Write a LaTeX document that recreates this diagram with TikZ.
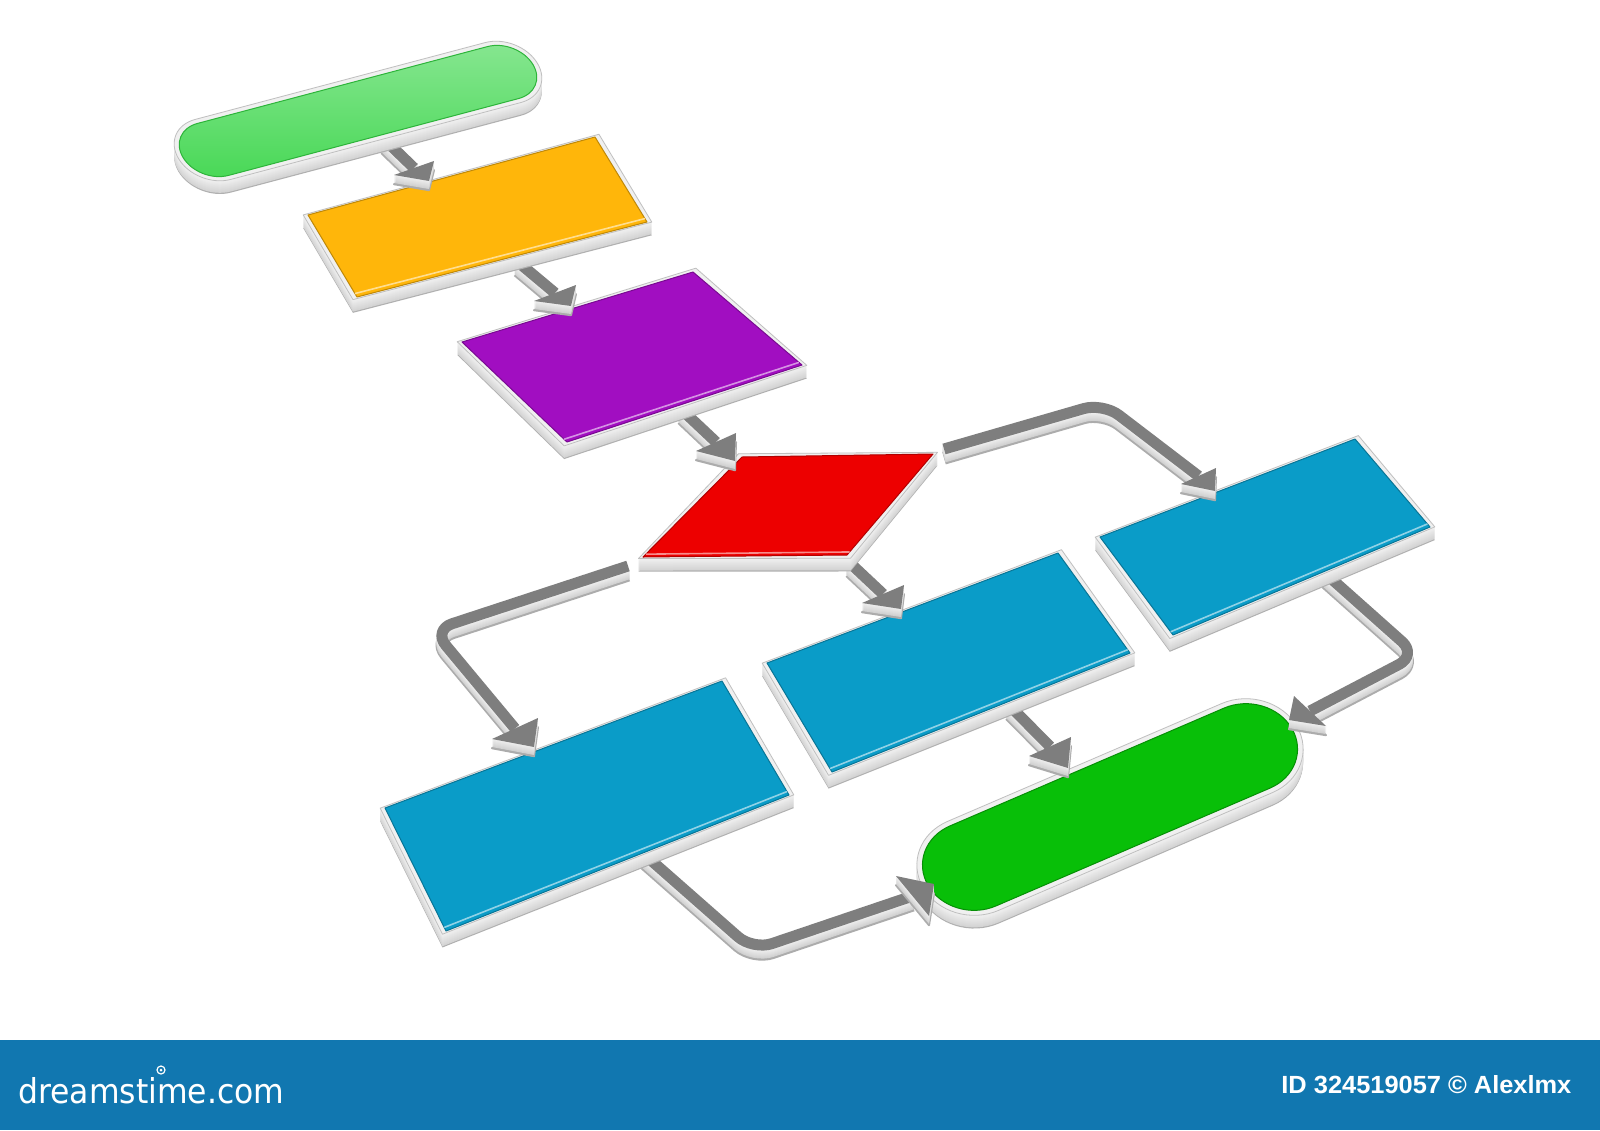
\documentclass[tikz,border=0pt]{standalone}
\usepackage{fontspec}
\usepackage{graphicx}
\usetikzlibrary{calc}
\newfontfamily\barfont{DejaVu Sans}
\newfontfamily\idfont{Liberation Sans}
\definecolor{orangeF}{HTML}{FFB60A}
\definecolor{purpleF}{HTML}{A10EC1}
\definecolor{redF}{HTML}{ED0000}
\definecolor{blueF}{HTML}{0A9CC8}
\definecolor{greenB}{HTML}{08BF08}
\definecolor{greenT1}{HTML}{86E690}
\definecolor{greenT2}{HTML}{48D856}
\definecolor{greenTd}{HTML}{2DB43A}
\definecolor{tubetop}{HTML}{7E7E7E}
\definecolor{barblue}{HTML}{1177B0}

% pill geometry: name, cx, cy, ux, uy, wx, wy, L, r
\newcommand\setpill[9]{%
 \pgfmathsetmacro\Px{#2-#8*#4}\pgfmathsetmacro\Py{#3-#8*#5}%
 \pgfmathsetmacro\Qx{#2+#8*#4}\pgfmathsetmacro\Qy{#3+#8*#5}%
 \pgfmathsetmacro\Rx{#9*#4}\pgfmathsetmacro\Ry{#9*#5}%
 \def\kk{0.5523}%
 \coordinate (#1-1) at (\Qx+#6,\Qy+#7);
 \coordinate (#1-2) at (\Qx+#6+\kk*\Rx,\Qy+#7+\kk*\Ry);
 \coordinate (#1-3) at (\Qx+\Rx+\kk*#6,\Qy+\Ry+\kk*#7);
 \coordinate (#1-4) at (\Qx+\Rx,\Qy+\Ry);
 \coordinate (#1-5) at (\Qx+\Rx-\kk*#6,\Qy+\Ry-\kk*#7);
 \coordinate (#1-6) at (\Qx-#6+\kk*\Rx,\Qy-#7+\kk*\Ry);
 \coordinate (#1-7) at (\Qx-#6,\Qy-#7);
 \coordinate (#1-8) at (\Px-#6,\Py-#7);
 \coordinate (#1-9) at (\Px-#6-\kk*\Rx,\Py-#7-\kk*\Ry);
 \coordinate (#1-10) at (\Px-\Rx-\kk*#6,\Py-\Ry-\kk*#7);
 \coordinate (#1-11) at (\Px-\Rx,\Py-\Ry);
 \coordinate (#1-12) at (\Px-\Rx+\kk*#6,\Py-\Ry+\kk*#7);
 \coordinate (#1-13) at (\Px+#6-\kk*\Rx,\Py+#7-\kk*\Ry);
 \coordinate (#1-14) at (\Px+#6,\Py+#7);
}
\newcommand\pillpath[1]{(#1-14) -- (#1-1) .. controls (#1-2) and (#1-3) .. (#1-4) .. controls (#1-5) and (#1-6) .. (#1-7) -- (#1-8) .. controls (#1-9) and (#1-10) .. (#1-11) .. controls (#1-12) and (#1-13) .. (#1-14) -- cycle}

\newcommand\pillslab[3]{%
 \begin{scope}[transform canvas={yshift=-6.6pt}]
  \fill[gray!62] \pillpath{#2};
 \end{scope}
 \foreach \k [evaluate=\k as \pc using int(10+4*\k)] in {6,5.5,...,0.5}{%
  \begin{scope}[transform canvas={yshift=-\k pt}]
   \fill[gray!\pc] \pillpath{#2};
  \end{scope}}
 \filldraw[fill=gray!12, draw=gray!50, line width=0.4pt] \pillpath{#2};
 \path[#3] \pillpath{#1};
}

\newcommand\quadslab[5]{%
 \coordinate (qc) at ($(#1)!0.5!(#3)$);
 \coordinate (q1) at ($(#1)!-2.4pt!(qc)$);
 \coordinate (q2) at ($(#2)!-2.4pt!(qc)$);
 \coordinate (q3) at ($(#3)!-2.4pt!(qc)$);
 \coordinate (q4) at ($(#4)!-2.4pt!(qc)$);
 \begin{scope}[transform canvas={yshift=-6.6pt}]
  \fill[gray!62] (q1)--(q2)--(q3)--(q4)--cycle;
 \end{scope}
 \foreach \k [evaluate=\k as \pc using int(10+4*\k)] in {6,5.5,...,0.5}{%
  \begin{scope}[transform canvas={yshift=-\k pt}]
   \fill[gray!\pc] (q1)--(q2)--(q3)--(q4)--cycle;
  \end{scope}}
 \filldraw[fill=gray!12, draw=gray!50, line width=0.4pt] (q1)--(q2)--(q3)--(q4)--cycle;
 \filldraw[fill=#5, draw=#5!75!black, line width=0.5pt] (#1)--(#2)--(#3)--(#4)--cycle;
 \draw[#5!45!white, line width=0.8pt] ($(#4)!2pt!(#1)$) -- ($(#3)!2pt!(#2)$);
}

\newcommand\shaft[1]{%
 \begin{scope}[transform canvas={yshift=-4.6pt}]
  \draw[gray!65, line width=6.4pt, rounded corners=10pt] #1;
 \end{scope}
 \foreach \k [evaluate=\k as \pc using int(12+6*\k)] in {4,3.5,...,0.5}{%
  \begin{scope}[transform canvas={yshift=-\k pt}]
   \draw[gray!\pc, line width=5.5pt, rounded corners=10pt] #1;
  \end{scope}}
 \draw[tubetop, line width=5.5pt, rounded corners=10pt] #1;
}
\newcommand\head[1]{%
 \begin{scope}[transform canvas={yshift=-4.6pt}]
  \filldraw[gray!65, line width=1pt] #1;
 \end{scope}
 \foreach \k [evaluate=\k as \pc using int(12+6*\k)] in {4,3.5,...,0.5}{%
  \begin{scope}[transform canvas={yshift=-\k pt}]
   \fill[gray!\pc] #1;
  \end{scope}}
 \fill[tubetop] #1;
}

\begin{document}
\begin{tikzpicture}[x=0.5pt,y=-0.5pt,line join=round]
\useasboundingbox (0,0) rectangle (1600,1130);
\fill[white] (0,0) rectangle (1600,1130);

% ---- shape corners
\coordinate (or1) at (308,215); \coordinate (or2) at (595,137);
\coordinate (or3) at (647,222); \coordinate (or4) at (357,297);
\coordinate (pu1) at (462,342); \coordinate (pu2) at (693,272);
\coordinate (pu3) at (802,365); \coordinate (pu4) at (567,442);
\coordinate (re1) at (742,457); \coordinate (re2) at (933,454);
\coordinate (re3) at (847,555); \coordinate (re4) at (643,557);
\coordinate (br1) at (1100,537); \coordinate (br2) at (1355,439);
\coordinate (br3) at (1430,527); \coordinate (br4) at (1173,635);
\coordinate (bm1) at (767,663); \coordinate (bm2) at (1058,553);
\coordinate (bm3) at (1130,653); \coordinate (bm4) at (832,772);
\coordinate (bl1) at (385,808); \coordinate (bl2) at (722,681);
\coordinate (bl3) at (789,795); \coordinate (bl4) at (446,931);
\setpill{tp}{358}{111}{1}{-0.265}{15.5}{26}{145}{30}
\setpill{tpr}{358}{111}{1}{-0.265}{17.8}{30}{145}{34.5}
\setpill{bp}{1110}{807}{1}{-0.43}{23}{40}{137}{45}
\setpill{bpr}{1110}{807}{1}{-0.43}{25.5}{44.5}{137}{50}

% ---- connector points
\coordinate (a1s) at (385,140); \coordinate (a1l) at (394,175); \coordinate (a1r) at (434,161); \coordinate (a1t) at (429,181);
\coordinate (a2s) at (518,262); \coordinate (a2l) at (534,301); \coordinate (a2r) at (576,285); \coordinate (a2t) at (571,306);
\coordinate (a3s) at (682,410); \coordinate (a3l) at (696,451); \coordinate (a3r) at (736,433); \coordinate (a3t) at (735,461);
\coordinate (a4s) at (850,563); \coordinate (a4l) at (862,603); \coordinate (a4r) at (904,585); \coordinate (a4t) at (901,609);
\coordinate (a5s) at (1010,706); \coordinate (a5l) at (1029,756); \coordinate (a5r) at (1071,737); \coordinate (a5t) at (1068,768);
\coordinate (c1s) at (944,449); \coordinate (c1m) at (1103,403); \coordinate (c1l) at (1181,484); \coordinate (c1r) at (1216,468); \coordinate (c1t) at (1215,491);
\coordinate (c2s) at (628,566); \coordinate (c2m) at (433,630); \coordinate (c2l) at (492,739); \coordinate (c2r) at (538,718); \coordinate (c2t) at (534,747);
\coordinate (c3s) at (645,855); \coordinate (c3m) at (753,950); \coordinate (c3l) at (896,876); \coordinate (c3r) at (929,916); \coordinate (c3t) at (934,884);
\coordinate (c4s) at (1326,574); \coordinate (c4m) at (1417,655); \coordinate (c4l) at (1294,696); \coordinate (c4r) at (1326,726); \coordinate (c4t) at (1289,720);
\foreach \n in {a1,a2,a3,a4,a5,c1,c2,c3,c4}{\coordinate (\n b) at ($(\n l)!0.5!(\n r)$);}

% ---- shafts
\shaft{(a1s) -- (a1b)}
\shaft{(a2s) -- (a2b)}
\shaft{(a3s) -- (a3b)}
\shaft{(a4s) -- (a4b)}
\shaft{(a5s) -- (a5b)}
\shaft{(c1s) -- (c1m) -- (c1b)}
\shaft{(c2s) -- (c2m) -- (c2b)}
\shaft{(c3s) -- (c3m) -- (c3b)}
\shaft{(c4s) -- (c4m) -- (c4b)}

% ---- shapes
\pillslab{tp}{tpr}{top color=greenT1, bottom color=greenT2, draw=greenTd, line width=0.5pt}
\quadslab{or1}{or2}{or3}{or4}{orangeF}
\quadslab{pu1}{pu2}{pu3}{pu4}{purpleF}
\quadslab{re1}{re2}{re3}{re4}{redF}
\quadslab{br1}{br2}{br3}{br4}{blueF}
\quadslab{bm1}{bm2}{bm3}{bm4}{blueF}
\quadslab{bl1}{bl2}{bl3}{bl4}{blueF}
\pillslab{bp}{bpr}{fill=greenB, draw=greenB!75!black, line width=0.5pt}

% ---- arrow heads
\foreach \n in {a1,a2,a3,a4,a5,c1,c2,c3,c4}{\head{(\n l) -- (\n t) -- (\n r) -- cycle}}

% ---- bottom bar
\fill[barblue] (0,1040) rectangle (1600,1130);
\node[anchor=base west, inner sep=0, text=white] (wm) at (18,1103)
  {\resizebox{133pt}{13pt}{\barfont dreamstime.com}};
\draw[white, line width=0.6pt] (161,1070) circle[radius=4];
\fill[white] (161,1070) circle[radius=1.5];
\node[anchor=base west, inner sep=0, text=white] (id) at (1281,1093)
  {\resizebox{145pt}{9pt}{\idfont\bfseries ID 324519057 © Alexlmx}};
\end{tikzpicture}
\end{document}
